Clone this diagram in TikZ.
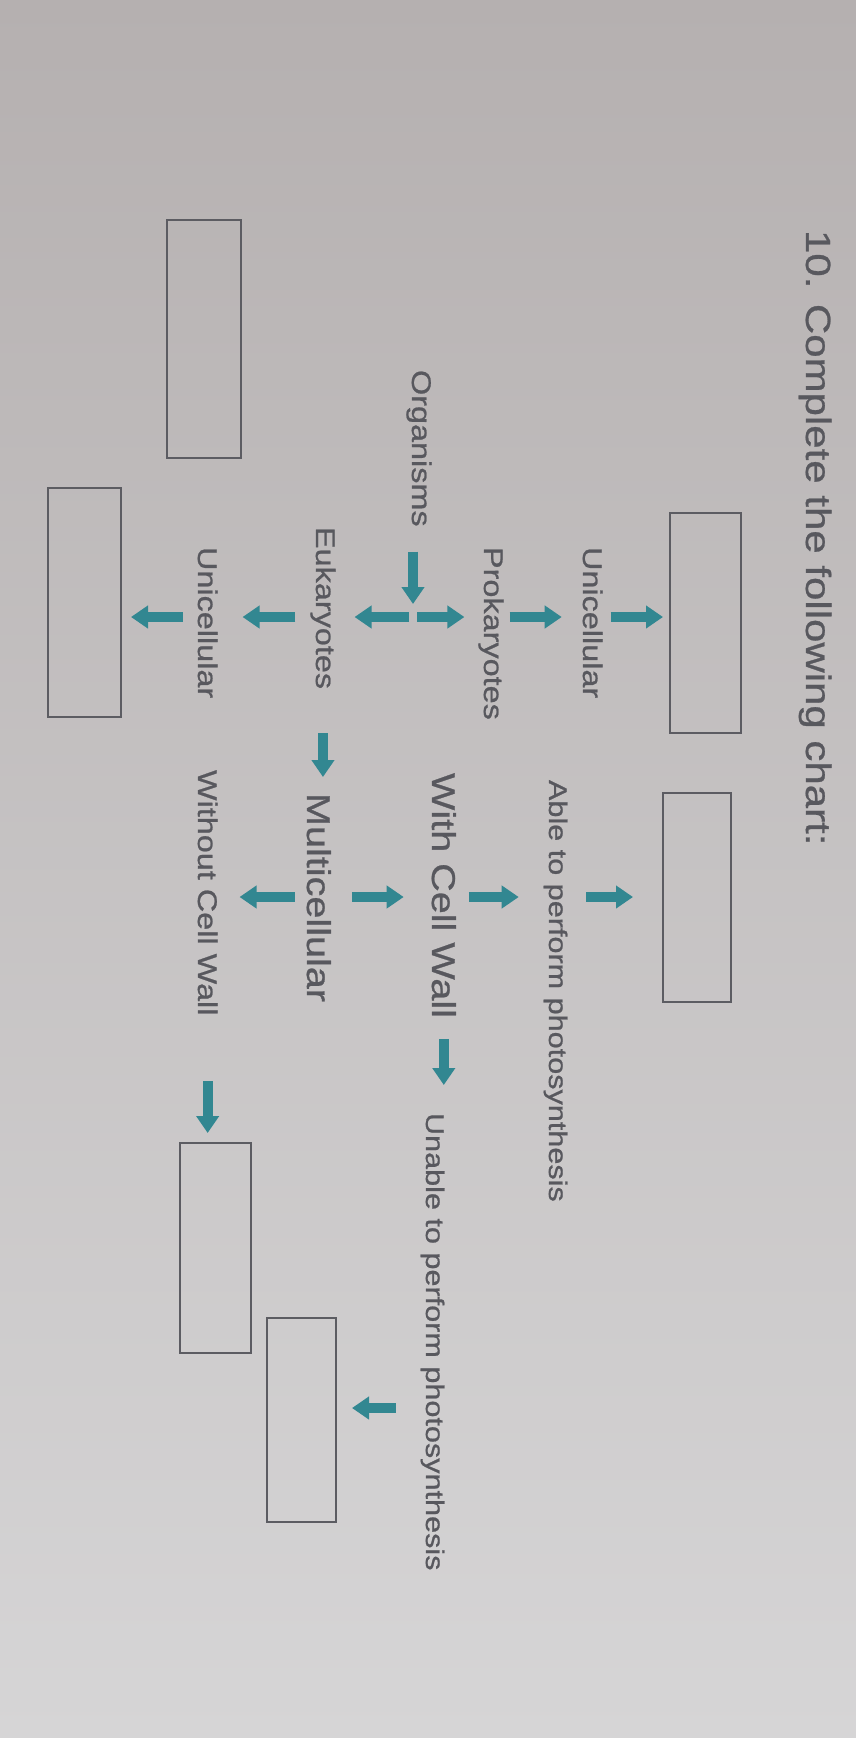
\documentclass[tikz,border=0pt]{standalone}
\usepackage{fontspec}
\setmainfont{Liberation Sans}[FakeStretch=1.2, FakeBold=0.8]
\usetikzlibrary{arrows.meta}

\definecolor{papertop}{RGB}{181,176,176}
\definecolor{paperbot}{RGB}{214,213,214}
\definecolor{ink}{RGB}{88,88,94}
\definecolor{boxline}{RGB}{92,92,98}
\definecolor{arrteal}{RGB}{50,135,145}

\tikzset{
    lbl/.style={rotate=-90, anchor=base west, inner sep=0pt, outer sep=0pt,
        text=ink, font=\fontsize{27}{32}\selectfont},
    biglbl/.style={lbl, font=\fontsize{33}{38}\selectfont},
    longlbl/.style={lbl, font=\fontsize{25.5}{30}\selectfont},
    heading/.style={lbl, font=\fontsize{35}{40}\selectfont},
    blank/.style={draw=boxline, line width=2.5pt, anchor=north west,
        inner sep=0pt, outer sep=0pt},
    arr/.style={draw=arrteal, line width=10pt,
        -{Triangle[length=17pt, width=22pt]}},
}

\begin{document}
\begin{tikzpicture}[x=1pt, y=-1pt]

\useasboundingbox (0,0) rectangle (856,1738);
\shade[top color=papertop, bottom color=paperbot] (0,0) rectangle (856,1738);

% rows of the horizontal arrows
\coordinate (r1) at (0,617);
\coordinate (r2) at (0,897);
\coordinate (r3) at (0,1408);
\coordinate (j) at (413,617);

\node[heading] (title) at (806,230) {10. Complete the following chart:};

% labels
\node[lbl] (org) at (412,370) {Organisms};
\node[lbl] (prok) at (484,547) {Prokaryotes};
\node[lbl] (uni1) at (583,547) {Unicellular};
\node[lbl] (euk) at (316,527) {Eukaryotes};
\node[lbl] (uni2) at (198,547) {Unicellular};
\node[biglbl] (multi) at (307,793) {Multicellular};
\node[biglbl] (withcw) at (432,773) {With Cell Wall};
\node[lbl] (withoutcw) at (198,770) {Without Cell Wall};
\node[longlbl] (able) at (549,780) {Able to perform photosynthesis};
\node[longlbl] (unable) at (426,1113) {Unable to perform photosynthesis};

% empty boxes
\node[blank, minimum width=74pt, minimum height=238pt] (boxA) at (167,220) {};
\node[blank, minimum width=73pt, minimum height=229pt] (boxB) at (48,488) {};
\node[blank, minimum width=71pt, minimum height=220pt] (boxC) at (670,513) {};
\node[blank, minimum width=68pt, minimum height=209pt] (boxD) at (663,793) {};
\node[blank, minimum width=71pt, minimum height=210pt] (boxE) at (180,1143) {};
\node[blank, minimum width=69pt, minimum height=204pt] (boxF) at (267,1318) {};

% arrows
\draw[arr, shorten <=25pt, shorten >=13pt] (j |- org.east) -- (j);
\draw[arr, shorten <=4pt, shorten >=19pt] (j) -- (euk.north |- r1);
\draw[arr, shorten <=4pt, shorten >=14pt] (j) -- (prok.south |- r1);
\draw[arr, shorten <=6pt, shorten >=21pt] (prok.north |- r1) -- (uni1.south |- r1);
\draw[arr, shorten <=8pt, shorten >=7pt] (uni1.north |- r1) -- (boxC.west |- r1);
\draw[arr, shorten <=15pt, shorten >=25pt] (euk.south |- r1) -- (uni2.north |- r1);
\draw[arr, shorten <=15pt, shorten >=10pt] (uni2.south |- r1) -- (boxB.east |- r1);

\draw[arr, shorten <=44pt, shorten >=16pt] (euk.east) -- (euk.east |- multi.west);
\draw[arr, shorten <=21pt, shorten >=28pt] (multi.north |- r2) -- (withcw.south |- r2);
\draw[arr, shorten <=13pt, shorten >=25pt] (withcw.north |- r2) -- (able.south |- r2);
\draw[arr, shorten <=19pt, shorten >=30pt] (able.north |- r2) -- (boxD.west |- r2);
\draw[arr, shorten <=12pt, shorten >=22pt] (multi.south |- r2) -- (withoutcw.north |- r2);

\draw[arr, shorten <=21pt, shorten >=28pt] (withcw.east) -- (withcw.east |- unable.west);
\draw[arr, shorten <=66pt, shorten >=10pt] (withoutcw.east) -- (withoutcw.east |- boxE.north);
\draw[arr, shorten <=25pt, shorten >=16pt] (unable.south |- r3) -- (boxF.east |- r3);

\end{tikzpicture}
\end{document}
